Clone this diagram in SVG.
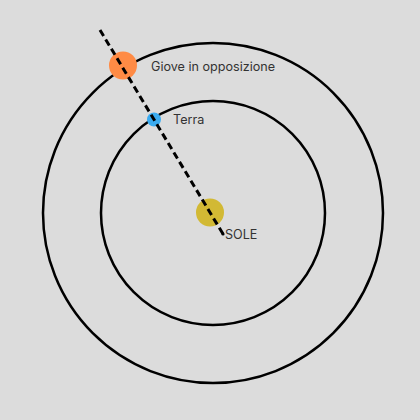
<svg xmlns="http://www.w3.org/2000/svg" width="420" height="420" viewBox="0 0 420 420">
<style>
.orbit{fill:none;stroke:#000;stroke-width:2.5}
.lbl{font-family:Inter,"Noto Sans",sans-serif;font-size:12.6px;fill:#333}
</style>
<rect width="420" height="420" fill="#dcdcdc"/>
<g id="orbit-giove"><circle class="orbit" cx="213" cy="213" r="170"/></g>
<g id="orbit-terra"><circle class="orbit" cx="213" cy="213" r="112"/></g>
<g id="sole"><circle cx="210" cy="212.5" r="14" fill="#d2b934"/><text class="lbl" x="225" y="239">SOLE</text></g>
<g id="giove"><circle cx="123" cy="65.5" r="14" fill="#ff8b45"/><text class="lbl" x="151" y="70.5">Giove in opposizione</text></g>
<g id="terra"><circle cx="154" cy="119.5" r="7" fill="#3aabf0"/><text class="lbl" x="173" y="123.5">Terra</text></g>
<g id="connectors">
<line x1="100" y1="30" x2="223" y2="234" stroke="#000" stroke-width="3" stroke-dasharray="7,4"/>
<circle cx="223" cy="234" r="1.6" fill="#000"/>
</g>
</svg>
